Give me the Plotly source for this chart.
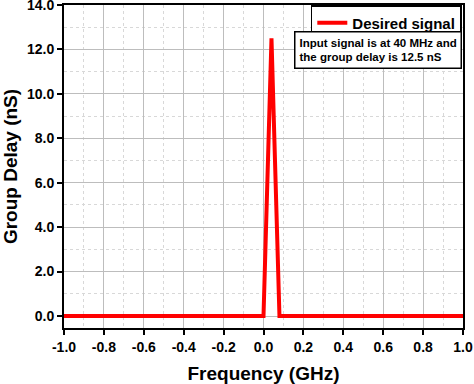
import plotly.graph_objects as go

freq_ghz = [-1.0, 0.0, 0.04, 0.08, 1.0]
group_delay_ns = [0.0, 0.0, 12.5, 0.0, 0.0]
x_ticks = [-1.0, -0.8, -0.6, -0.4, -0.2, 0.0, 0.2, 0.4, 0.6, 0.8, 1.0]
y_ticks = [0.0, 2.0, 4.0, 6.0, 8.0, 10.0, 12.0, 14.0]

FONT = "Liberation Sans, Arial, sans-serif"

fig = go.Figure()
fig.add_trace(go.Scatter(x=freq_ghz, y=group_delay_ns, mode="lines",
                         line=dict(color="#ff0000", width=4),
                         name="<b>Desired signal</b>"))

axis_common = dict(showline=True, linecolor="black", linewidth=2, mirror=True,
                   ticks="outside", tickcolor="black", tickwidth=2, ticklen=5,
                   showgrid=True, gridcolor="#bdbdbd", gridwidth=1, zeroline=False,
                   automargin=False, layer="below traces", ticklabeloverflow="allow",
                   tickfont=dict(family=FONT, size=14, color="black", weight="bold"))

fig.update_xaxes(range=[-1.0, 1.0], tickvals=x_ticks,
                 ticktext=[f"{v:.1f}" for v in x_ticks],
                 title=dict(text="<b>Frequency (GHz)</b>", font=dict(family=FONT, size=19, color="black"), standoff=14),
                 minor=dict(showgrid=True, gridcolor="#d8d8d8", griddash="dot", gridwidth=1,
                            tickvals=[round(v + 0.1, 2) for v in x_ticks[:-1]]),
                 **axis_common)
fig.update_yaxes(range=[-0.54, 14.0], tickvals=y_ticks,
                 ticktext=[f"{v:.1f}" for v in y_ticks],
                 title=dict(text="<b>Group Delay (nS)</b>", font=dict(family=FONT, size=19, color="black"), standoff=8),
                 minor=dict(showgrid=True, gridcolor="#d8d8d8", griddash="dot", gridwidth=1,
                            tickvals=[v + 1.0 for v in y_ticks[:-1]]),
                 **axis_common)

fig.update_layout(
    width=474, height=384,
    margin=dict(l=64, r=11, t=5, b=56),
    plot_bgcolor="white", paper_bgcolor="white",
    showlegend=True,
    legend=dict(x=0.997, y=1.0, xanchor="right", yanchor="top",
                bordercolor="black", borderwidth=1.5, bgcolor="white",
                font=dict(family=FONT, size=15, color="black"),
                itemwidth=30),
    annotations=[dict(xref="paper", yref="paper", x=0.9985, y=0.918,
                      xanchor="right", yanchor="top", align="left",
                      text="<b>Input signal is at 40 MHz and<br>the group delay is 12.5 nS</b>",
                      showarrow=False, bordercolor="black", borderwidth=1.5,
                      bgcolor="white", borderpad=4,
                      font=dict(family=FONT, size=11.5, color="black"))],
)

fig.write_html("out.html", config={"displayModeBar": False},
               post_script="document.body.style.margin='0';")
